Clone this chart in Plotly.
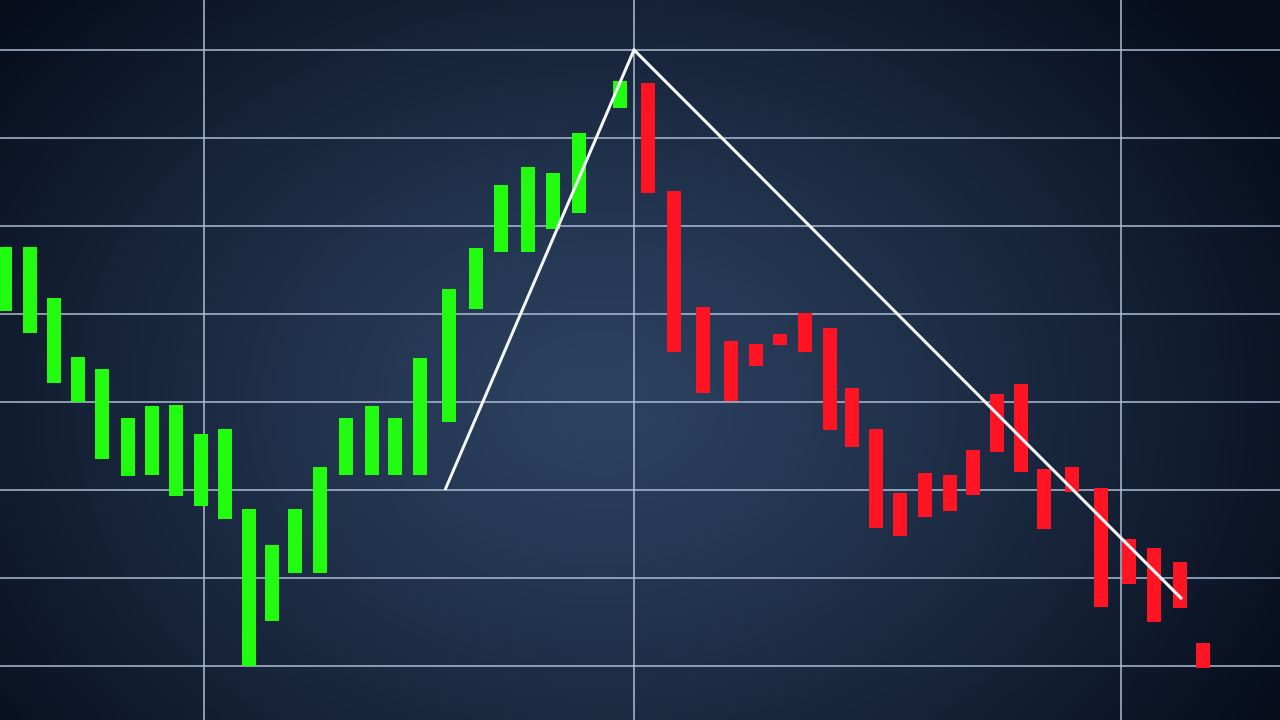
import base64
import struct
import zlib

import numpy as np
import plotly.graph_objects as go

# ---------------- data ----------------
# rising (green) bars: time position, low and high of the body
green_x = [5, 29.5, 54, 78, 102, 127.5, 152, 176, 201, 225, 248.5, 272, 295, 320,
           346, 371.5, 395, 420, 449, 476, 501, 528, 553, 579, 620]
green_low = [140.3, 137.8, 132.2, 130.0, 123.5, 121.6, 121.7, 119.3, 118.2, 116.7,
             100.0, 105.1, 110.6, 110.6, 121.7, 121.7, 121.7, 121.7, 127.7, 140.6,
             147.0, 147.0, 149.7, 151.5, 163.4]
green_high = [147.6, 147.6, 141.8, 135.1, 133.75, 128.2, 129.5, 129.7, 126.4, 126.9,
              117.8, 113.75, 117.8, 122.6, 128.2, 129.5, 128.2, 135.0, 142.8, 147.5,
              154.7, 156.7, 156.0, 160.6, 166.5]

# falling (red) bars
red_x = [648, 673.5, 703, 730.5, 755.5, 780, 805, 829.5, 851.5, 876, 900, 924.5,
         949.5, 973, 996.5, 1020.5, 1043.5, 1071.5, 1101, 1129, 1153.5, 1179.5, 1203]
red_high = [166.25, 154.0, 140.8, 136.9, 136.6, 137.7, 140.1, 138.4, 131.6, 126.9,
            119.7, 121.9, 121.7, 124.5, 130.9, 132.0, 122.4, 122.6, 120.2, 114.4,
            113.4, 111.8, 102.6]
red_low = [153.75, 135.7, 131.0, 130.1, 134.1, 136.5, 135.7, 126.8, 124.9, 115.7,
           114.8, 116.9, 117.6, 119.4, 124.3, 122.0, 115.6, 119.8, 106.7, 109.3,
           105.0, 106.6, 99.8]

# trend line (swing low -> peak -> lower point)
trend_x = [445, 634, 1182]
trend_y = [120.0, 170.0, 107.6]

# grid positions
x_grid = [204, 634, 1121]
y_grid = [100, 110, 120, 130, 140, 150, 160, 170]

# ---------------- background gradient image ----------------
W, H = 320, 180
yy, xx = np.mgrid[0:H, 0:W]
nx = xx / (W - 1)
ny = yy / (H - 1)
d = np.sqrt(((nx - 0.47) / 0.62) ** 2 + ((ny - 0.56) / 0.85) ** 2)
t = np.clip(d, 0, 1) ** 1.25
c_center = np.array([44, 66, 97], dtype=float)
c_edge = np.array([6, 12, 26], dtype=float)
img = (c_center[None, None, :] * (1 - t[..., None]) + c_edge[None, None, :] * t[..., None])
img = np.clip(img, 0, 255).astype(np.uint8)


def png_bytes(arr):
    h, w, _ = arr.shape
    raw = b"".join(b"\x00" + arr[r].tobytes() for r in range(h))

    def chunk(tag, data):
        c = struct.pack(">I", len(data)) + tag + data
        return c + struct.pack(">I", zlib.crc32(tag + data) & 0xFFFFFFFF)

    return (b"\x89PNG\r\n\x1a\n"
            + chunk(b"IHDR", struct.pack(">IIBBBBB", w, h, 8, 2, 0, 0, 0))
            + chunk(b"IDAT", zlib.compress(raw, 9))
            + chunk(b"IEND", b""))


bg_uri = "data:image/png;base64," + base64.b64encode(png_bytes(img)).decode()

# ---------------- figure ----------------
GREEN = "#22fc10"
RED = "#ff1424"

fig = go.Figure()
fig.add_trace(go.Bar(
    x=green_x,
    y=[h - l for h, l in zip(green_high, green_low)],
    base=green_low,
    width=14,
    marker=dict(color=GREEN, line=dict(width=0)),
    hoverinfo="skip",
))
fig.add_trace(go.Bar(
    x=red_x,
    y=[h - l for h, l in zip(red_high, red_low)],
    base=red_low,
    width=14,
    marker=dict(color=RED, line=dict(width=0)),
    hoverinfo="skip",
))
fig.add_trace(go.Scatter(
    x=trend_x, y=trend_y, mode="lines",
    line=dict(color="#f4f6f8", width=3),
    hoverinfo="skip",
))

grid_color = "rgba(175,192,215,0.75)"
fig.update_layout(
    width=1280, height=720,
    margin=dict(l=0, r=0, t=0, b=0),
    paper_bgcolor="#0b1322",
    plot_bgcolor="rgba(0,0,0,0)",
    showlegend=False,
    barmode="overlay",
    bargap=0,
    images=[dict(source=bg_uri, xref="paper", yref="paper", x=0, y=1,
                 sizex=1, sizey=1, sizing="stretch", layer="below")],
    xaxis=dict(range=[0, 1280], tickvals=x_grid, showticklabels=False,
               showgrid=True, gridcolor=grid_color, gridwidth=2,
               zeroline=False, showline=False, ticks=""),
    yaxis=dict(range=[93.86, 175.68], tickvals=y_grid, showticklabels=False,
               showgrid=True, gridcolor=grid_color, gridwidth=2,
               zeroline=False, showline=False, ticks=""),
)

fig.write_html(
    "out.html",
    config={"displayModeBar": False},
    post_script=("document.body.style.margin='0';"
                 "document.body.style.overflow='hidden';"
                 "document.documentElement.style.overflow='hidden';"),
)
